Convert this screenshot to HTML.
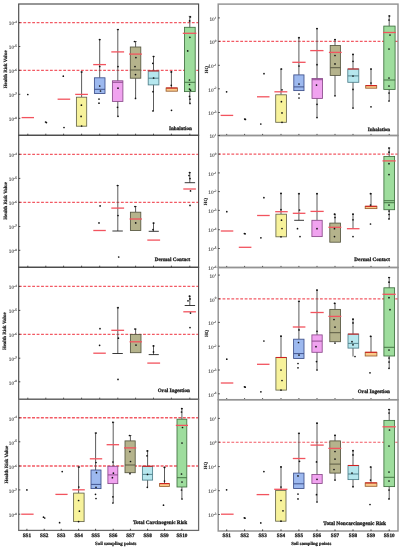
<!DOCTYPE html>
<html><head><meta charset="utf-8"><style>
html,body{margin:0;padding:0;background:#fff;}
svg{display:block;will-change:transform;}
text{font-family:"Liberation Serif",serif;fill:#222;text-rendering:geometricPrecision;}
</style></head><body>
<svg width="403" height="550" viewBox="0 0 403 550">
<rect x="0" y="0" width="403" height="550" fill="#fff"/>
<line x1="18.7" y1="22.6" x2="198.6" y2="22.6" stroke="#f25a64" stroke-width="1.3" stroke-dasharray="2.8 1.635" stroke-dashoffset="4.23"/>
<line x1="18.7" y1="70.3" x2="198.6" y2="70.3" stroke="#f25a64" stroke-width="1.3" stroke-dasharray="2.8 1.635" stroke-dashoffset="4.23"/>
<line x1="21.6" y1="117.6" x2="34" y2="117.6" stroke="#f2535e" stroke-width="1.3" />
<circle cx="27.8" cy="94.5" r="0.85" fill="#111"/>
<circle cx="45.6" cy="122" r="0.85" fill="#111"/>
<circle cx="46.4" cy="122.6" r="0.85" fill="#111"/>
<line x1="57.6" y1="99.2" x2="70.2" y2="99.2" stroke="#f2535e" stroke-width="1.3" />
<circle cx="63.3" cy="76.2" r="0.85" fill="#111"/>
<circle cx="64" cy="127.5" r="0.85" fill="#111"/>
<line x1="81.6" y1="71.9" x2="81.6" y2="97.2" stroke="#4a4a4a" stroke-width="0.9" />
<line x1="80.6" y1="71.9" x2="82.6" y2="71.9" stroke="#333" stroke-width="0.8" />
<rect x="76.4" y="97.2" width="10.3" height="29" fill="#f7f29b" stroke="#66664a" stroke-width="0.85"/>
<line x1="75.2" y1="94.4" x2="87.9" y2="94.4" stroke="#f2535e" stroke-width="1.3" />
<circle cx="81.6" cy="72" r="0.85" fill="#111"/>
<circle cx="81.4" cy="105.2" r="0.85" fill="#111"/>
<circle cx="81.1" cy="116.4" r="0.85" fill="#111"/>
<circle cx="81.6" cy="126" r="0.85" fill="#111"/>
<line x1="99.7" y1="39.6" x2="99.7" y2="77.8" stroke="#4a4a4a" stroke-width="0.9" />
<line x1="98.7" y1="39.6" x2="100.7" y2="39.6" stroke="#333" stroke-width="0.8" />
<rect x="94.4" y="77.8" width="10.6" height="15.7" fill="#9db9ef" stroke="#3d4f8a" stroke-width="0.85"/>
<line x1="94.4" y1="89.3" x2="105" y2="89.3" stroke="#3d4f8a" stroke-width="0.95" />
<line x1="93.2" y1="64.6" x2="106" y2="64.6" stroke="#f2535e" stroke-width="1.3" />
<circle cx="99.7" cy="39.6" r="0.85" fill="#111"/>
<circle cx="99.7" cy="66.5" r="0.85" fill="#111"/>
<circle cx="99.7" cy="86" r="0.85" fill="#111"/>
<circle cx="100.5" cy="91" r="0.85" fill="#111"/>
<circle cx="99" cy="99.1" r="0.85" fill="#111"/>
<circle cx="99" cy="103.2" r="0.85" fill="#111"/>
<line x1="117.8" y1="29.5" x2="117.8" y2="116.3" stroke="#4a4a4a" stroke-width="0.9" />
<line x1="116.8" y1="29.5" x2="118.8" y2="29.5" stroke="#333" stroke-width="0.8" />
<rect x="112.4" y="80.8" width="10.5" height="20.6" fill="#f0a3ef" stroke="#8a4a8a" stroke-width="0.85"/>
<line x1="112.4" y1="82.3" x2="122.9" y2="82.3" stroke="#8a4a8a" stroke-width="0.95" />
<line x1="111.3" y1="51.9" x2="124.1" y2="51.9" stroke="#f2535e" stroke-width="1.3" />
<circle cx="118" cy="29.5" r="0.85" fill="#111"/>
<circle cx="118" cy="66.6" r="0.85" fill="#111"/>
<circle cx="118" cy="88.2" r="0.85" fill="#111"/>
<circle cx="117.5" cy="107.3" r="0.85" fill="#111"/>
<circle cx="118" cy="116.3" r="0.85" fill="#111"/>
<line x1="135.6" y1="41.5" x2="135.6" y2="98.4" stroke="#4a4a4a" stroke-width="0.9" />
<line x1="134.6" y1="41.5" x2="136.6" y2="41.5" stroke="#333" stroke-width="0.8" />
<rect x="130.3" y="47" width="10.5" height="31.2" fill="#b5b38c" stroke="#55553f" stroke-width="0.85"/>
<line x1="130.3" y1="70" x2="140.8" y2="70" stroke="#55553f" stroke-width="0.95" />
<line x1="129" y1="54.1" x2="141.9" y2="54.1" stroke="#f2535e" stroke-width="1.3" />
<circle cx="134.5" cy="41.5" r="0.85" fill="#111"/>
<circle cx="135.9" cy="57.6" r="0.85" fill="#111"/>
<circle cx="135" cy="66.6" r="0.85" fill="#111"/>
<circle cx="135.5" cy="74.6" r="0.85" fill="#111"/>
<circle cx="135.5" cy="98.4" r="0.85" fill="#111"/>
<line x1="153.5" y1="56.4" x2="153.5" y2="110.9" stroke="#4a4a4a" stroke-width="0.9" />
<line x1="152.5" y1="56.4" x2="154.5" y2="56.4" stroke="#333" stroke-width="0.8" />
<rect x="148.2" y="70.9" width="10.7" height="14" fill="#b6e7ee" stroke="#4f7f8a" stroke-width="0.85"/>
<line x1="148.2" y1="78.2" x2="158.9" y2="78.2" stroke="#4f7f8a" stroke-width="0.95" />
<line x1="148.2" y1="70.9" x2="158.9" y2="70.9" stroke="#d02020" stroke-width="1.1" />
<circle cx="153.6" cy="56.5" r="0.85" fill="#111"/>
<circle cx="152.8" cy="63.3" r="0.85" fill="#111"/>
<circle cx="153.6" cy="78" r="0.85" fill="#111"/>
<circle cx="153" cy="91.7" r="0.85" fill="#111"/>
<circle cx="153" cy="110.9" r="0.85" fill="#111"/>
<line x1="171.4" y1="71.9" x2="171.4" y2="88" stroke="#4a4a4a" stroke-width="0.9" />
<line x1="170.4" y1="71.9" x2="172.4" y2="71.9" stroke="#333" stroke-width="0.8" />
<rect x="166.1" y="88" width="11.3" height="3.2" fill="#fbc98a" stroke="#9a6030" stroke-width="0.85"/>
<line x1="166.1" y1="88" x2="177.4" y2="88" stroke="#d02020" stroke-width="1.1" />
<circle cx="171.3" cy="71.9" r="0.85" fill="#111"/>
<circle cx="171.3" cy="85.3" r="0.85" fill="#111"/>
<circle cx="171.5" cy="110.3" r="0.85" fill="#111"/>
<line x1="189.8" y1="16.4" x2="189.8" y2="103.4" stroke="#4a4a4a" stroke-width="0.9" />
<line x1="188.8" y1="16.4" x2="190.8" y2="16.4" stroke="#333" stroke-width="0.8" />
<rect x="184.5" y="27.3" width="10.7" height="64.3" fill="#9edd9d" stroke="#3f6f3f" stroke-width="0.85"/>
<line x1="184.5" y1="82.3" x2="195.2" y2="82.3" stroke="#3f6f3f" stroke-width="0.95" />
<line x1="182.8" y1="33.3" x2="196.4" y2="33.3" stroke="#f2535e" stroke-width="1.3" />
<circle cx="190.4" cy="16.9" r="0.85" fill="#111"/>
<circle cx="189.6" cy="20.9" r="0.85" fill="#111"/>
<circle cx="189.9" cy="37.3" r="0.85" fill="#111"/>
<circle cx="187.7" cy="50.9" r="0.85" fill="#111"/>
<circle cx="189.5" cy="80" r="0.85" fill="#111"/>
<circle cx="189.5" cy="84.5" r="0.85" fill="#111"/>
<circle cx="189.5" cy="89.1" r="0.85" fill="#111"/>
<circle cx="190.5" cy="90.2" r="0.85" fill="#111"/>
<circle cx="189.5" cy="96.4" r="0.85" fill="#111"/>
<circle cx="190" cy="99.1" r="0.85" fill="#111"/>
<circle cx="190" cy="103.4" r="0.85" fill="#111"/>
<rect x="18.7" y="4" width="179.9" height="131.3" fill="none" stroke="#4a4a4a" stroke-width="1.15"/>
<line x1="18.7" y1="22.6" x2="20.3" y2="22.6" stroke="#333" stroke-width="0.9" />
<g transform="translate(16.9,25.3) scale(0.1)"><text x="0" y="0" text-rendering="geometricPrecision" font-size="53" text-anchor="end" font-weight="normal" style="fill:#444" stroke="#222" stroke-width="0.8">10<tspan font-size="33.0" dy="-21.0">-4</tspan></text></g>
<line x1="18.7" y1="46.5" x2="20.3" y2="46.5" stroke="#333" stroke-width="0.9" />
<g transform="translate(16.9,49.2) scale(0.1)"><text x="0" y="0" text-rendering="geometricPrecision" font-size="53" text-anchor="end" font-weight="normal" style="fill:#444" stroke="#222" stroke-width="0.8">10<tspan font-size="33.0" dy="-21.0">-5</tspan></text></g>
<line x1="18.7" y1="70.3" x2="20.3" y2="70.3" stroke="#333" stroke-width="0.9" />
<g transform="translate(16.9,73) scale(0.1)"><text x="0" y="0" text-rendering="geometricPrecision" font-size="53" text-anchor="end" font-weight="normal" style="fill:#444" stroke="#222" stroke-width="0.8">10<tspan font-size="33.0" dy="-21.0">-6</tspan></text></g>
<line x1="18.7" y1="94.3" x2="20.3" y2="94.3" stroke="#333" stroke-width="0.9" />
<g transform="translate(16.9,97) scale(0.1)"><text x="0" y="0" text-rendering="geometricPrecision" font-size="53" text-anchor="end" font-weight="normal" style="fill:#444" stroke="#222" stroke-width="0.8">10<tspan font-size="33.0" dy="-21.0">-7</tspan></text></g>
<line x1="18.7" y1="118.3" x2="20.3" y2="118.3" stroke="#333" stroke-width="0.9" />
<g transform="translate(16.9,121) scale(0.1)"><text x="0" y="0" text-rendering="geometricPrecision" font-size="53" text-anchor="end" font-weight="normal" style="fill:#444" stroke="#222" stroke-width="0.8">10<tspan font-size="33.0" dy="-21.0">-8</tspan></text></g>
<line x1="27.8" y1="135.3" x2="27.8" y2="133.7" stroke="#333" stroke-width="0.9" />
<line x1="45.8" y1="135.3" x2="45.8" y2="133.7" stroke="#333" stroke-width="0.9" />
<line x1="63.6" y1="135.3" x2="63.6" y2="133.7" stroke="#333" stroke-width="0.9" />
<line x1="81.6" y1="135.3" x2="81.6" y2="133.7" stroke="#333" stroke-width="0.9" />
<line x1="99.7" y1="135.3" x2="99.7" y2="133.7" stroke="#333" stroke-width="0.9" />
<line x1="117.8" y1="135.3" x2="117.8" y2="133.7" stroke="#333" stroke-width="0.9" />
<line x1="135.6" y1="135.3" x2="135.6" y2="133.7" stroke="#333" stroke-width="0.9" />
<line x1="153.5" y1="135.3" x2="153.5" y2="133.7" stroke="#333" stroke-width="0.9" />
<line x1="171.4" y1="135.3" x2="171.4" y2="133.7" stroke="#333" stroke-width="0.9" />
<line x1="189.8" y1="135.3" x2="189.8" y2="133.7" stroke="#333" stroke-width="0.9" />
<g transform="translate(192,129.9) scale(0.1)"><text x="0" y="0" text-rendering="geometricPrecision" font-size="52" text-anchor="end" font-weight="bold"  stroke="#222" stroke-width="3">Inhalation</text></g>
<g transform="translate(7.1,69.3) rotate(-90) scale(0.1)"><text x="0" y="0" text-rendering="geometricPrecision" font-size="49" text-anchor="middle" font-weight="bold"  stroke="#222" stroke-width="1.9">Health Risk Value</text></g>
<line x1="18.7" y1="154.3" x2="198.6" y2="154.3" stroke="#f25a64" stroke-width="1.3" stroke-dasharray="2.8 1.635" stroke-dashoffset="4.23"/>
<line x1="18.7" y1="202.3" x2="198.6" y2="202.3" stroke="#f25a64" stroke-width="1.3" stroke-dasharray="2.8 1.635" stroke-dashoffset="4.23"/>
<line x1="93.3" y1="230.5" x2="105.8" y2="230.5" stroke="#f2535e" stroke-width="1.3" />
<circle cx="100.1" cy="205.9" r="0.85" fill="#111"/>
<circle cx="99" cy="222.9" r="0.85" fill="#111"/>
<line x1="117.8" y1="185.5" x2="117.8" y2="231" stroke="#4a4a4a" stroke-width="0.9" />
<line x1="116.8" y1="185.5" x2="118.8" y2="185.5" stroke="#333" stroke-width="0.8" />
<line x1="112.4" y1="231" x2="122.8" y2="231" stroke="#222" stroke-width="0.9" />
<line x1="111.3" y1="208.1" x2="124.1" y2="208.1" stroke="#f2535e" stroke-width="1.3" />
<circle cx="117.5" cy="185.5" r="0.85" fill="#111"/>
<circle cx="118" cy="215.5" r="0.85" fill="#111"/>
<circle cx="118.7" cy="257" r="0.85" fill="#111"/>
<line x1="135.6" y1="206.5" x2="135.6" y2="212.2" stroke="#4a4a4a" stroke-width="0.9" />
<line x1="134.6" y1="206.5" x2="136.6" y2="206.5" stroke="#333" stroke-width="0.8" />
<rect x="130.4" y="212.2" width="10.4" height="18.3" fill="#b5b38c" stroke="#55553f" stroke-width="0.85"/>
<line x1="129.6" y1="219" x2="141.9" y2="219" stroke="#f2535e" stroke-width="1.3" />
<circle cx="135" cy="206.5" r="0.85" fill="#111"/>
<circle cx="135.7" cy="222.9" r="0.85" fill="#111"/>
<line x1="153.5" y1="223.1" x2="153.5" y2="231.3" stroke="#4a4a4a" stroke-width="0.9" />
<line x1="152.5" y1="223.1" x2="154.5" y2="223.1" stroke="#333" stroke-width="0.8" />
<line x1="148.7" y1="231.3" x2="158.8" y2="231.3" stroke="#222" stroke-width="0.9" />
<line x1="147.3" y1="240.1" x2="160.1" y2="240.1" stroke="#f2535e" stroke-width="1.3" />
<circle cx="153.6" cy="223.1" r="0.85" fill="#111"/>
<circle cx="153" cy="229.7" r="0.85" fill="#111"/>
<line x1="189.8" y1="172.6" x2="189.8" y2="182.7" stroke="#4a4a4a" stroke-width="0.9" />
<line x1="188.8" y1="172.6" x2="190.8" y2="172.6" stroke="#333" stroke-width="0.8" />
<line x1="184.7" y1="182.7" x2="195.1" y2="182.7" stroke="#222" stroke-width="0.9" />
<line x1="183.3" y1="189" x2="195.9" y2="189" stroke="#f2535e" stroke-width="1.3" />
<circle cx="189.6" cy="172.6" r="0.85" fill="#111"/>
<circle cx="189" cy="175.5" r="0.85" fill="#111"/>
<circle cx="190" cy="178.6" r="0.85" fill="#111"/>
<circle cx="190.5" cy="190.9" r="0.85" fill="#111"/>
<circle cx="190" cy="205.4" r="0.85" fill="#111"/>
<rect x="18.7" y="135.3" width="179.9" height="132" fill="none" stroke="#4a4a4a" stroke-width="1.15"/>
<line x1="18.7" y1="154.3" x2="20.3" y2="154.3" stroke="#333" stroke-width="0.9" />
<g transform="translate(16.9,157) scale(0.1)"><text x="0" y="0" text-rendering="geometricPrecision" font-size="53" text-anchor="end" font-weight="normal" style="fill:#444" stroke="#222" stroke-width="0.8">10<tspan font-size="33.0" dy="-21.0">-4</tspan></text></g>
<line x1="18.7" y1="178.4" x2="20.3" y2="178.4" stroke="#333" stroke-width="0.9" />
<g transform="translate(16.9,181.1) scale(0.1)"><text x="0" y="0" text-rendering="geometricPrecision" font-size="53" text-anchor="end" font-weight="normal" style="fill:#444" stroke="#222" stroke-width="0.8">10<tspan font-size="33.0" dy="-21.0">-5</tspan></text></g>
<line x1="18.7" y1="202.3" x2="20.3" y2="202.3" stroke="#333" stroke-width="0.9" />
<g transform="translate(16.9,205) scale(0.1)"><text x="0" y="0" text-rendering="geometricPrecision" font-size="53" text-anchor="end" font-weight="normal" style="fill:#444" stroke="#222" stroke-width="0.8">10<tspan font-size="33.0" dy="-21.0">-6</tspan></text></g>
<line x1="18.7" y1="226.5" x2="20.3" y2="226.5" stroke="#333" stroke-width="0.9" />
<g transform="translate(16.9,229.2) scale(0.1)"><text x="0" y="0" text-rendering="geometricPrecision" font-size="53" text-anchor="end" font-weight="normal" style="fill:#444" stroke="#222" stroke-width="0.8">10<tspan font-size="33.0" dy="-21.0">-7</tspan></text></g>
<line x1="18.7" y1="250.3" x2="20.3" y2="250.3" stroke="#333" stroke-width="0.9" />
<g transform="translate(16.9,253) scale(0.1)"><text x="0" y="0" text-rendering="geometricPrecision" font-size="53" text-anchor="end" font-weight="normal" style="fill:#444" stroke="#222" stroke-width="0.8">10<tspan font-size="33.0" dy="-21.0">-8</tspan></text></g>
<line x1="27.8" y1="267.3" x2="27.8" y2="265.7" stroke="#333" stroke-width="0.9" />
<line x1="45.8" y1="267.3" x2="45.8" y2="265.7" stroke="#333" stroke-width="0.9" />
<line x1="63.6" y1="267.3" x2="63.6" y2="265.7" stroke="#333" stroke-width="0.9" />
<line x1="81.6" y1="267.3" x2="81.6" y2="265.7" stroke="#333" stroke-width="0.9" />
<line x1="99.7" y1="267.3" x2="99.7" y2="265.7" stroke="#333" stroke-width="0.9" />
<line x1="117.8" y1="267.3" x2="117.8" y2="265.7" stroke="#333" stroke-width="0.9" />
<line x1="135.6" y1="267.3" x2="135.6" y2="265.7" stroke="#333" stroke-width="0.9" />
<line x1="153.5" y1="267.3" x2="153.5" y2="265.7" stroke="#333" stroke-width="0.9" />
<line x1="171.4" y1="267.3" x2="171.4" y2="265.7" stroke="#333" stroke-width="0.9" />
<line x1="189.8" y1="267.3" x2="189.8" y2="265.7" stroke="#333" stroke-width="0.9" />
<g transform="translate(190.3,260.5) scale(0.1)"><text x="0" y="0" text-rendering="geometricPrecision" font-size="52" text-anchor="end" font-weight="bold"  stroke="#222" stroke-width="3">Dermal Contact</text></g>
<g transform="translate(7.4,200.9) rotate(-90) scale(0.1)"><text x="0" y="0" text-rendering="geometricPrecision" font-size="49" text-anchor="middle" font-weight="bold"  stroke="#222" stroke-width="1.9">Health Risk Value</text></g>
<line x1="18.7" y1="286.4" x2="198.6" y2="286.4" stroke="#f25a64" stroke-width="1.3" stroke-dasharray="2.8 1.635" stroke-dashoffset="4.23"/>
<line x1="18.7" y1="334.3" x2="198.6" y2="334.3" stroke="#f25a64" stroke-width="1.3" stroke-dasharray="2.8 1.635" stroke-dashoffset="4.23"/>
<line x1="93.3" y1="353.2" x2="105.8" y2="353.2" stroke="#f2535e" stroke-width="1.3" />
<circle cx="100" cy="328.7" r="0.85" fill="#111"/>
<circle cx="99.6" cy="345.3" r="0.85" fill="#111"/>
<line x1="117.8" y1="307.7" x2="117.8" y2="353.5" stroke="#4a4a4a" stroke-width="0.9" />
<line x1="116.8" y1="307.7" x2="118.8" y2="307.7" stroke="#333" stroke-width="0.8" />
<line x1="112.4" y1="353.5" x2="122.8" y2="353.5" stroke="#222" stroke-width="0.9" />
<line x1="111.3" y1="330.3" x2="124.1" y2="330.3" stroke="#f2535e" stroke-width="1.3" />
<circle cx="118" cy="307.7" r="0.85" fill="#111"/>
<circle cx="118.4" cy="338.2" r="0.85" fill="#111"/>
<circle cx="118" cy="379.4" r="0.85" fill="#111"/>
<line x1="135.6" y1="329" x2="135.6" y2="334.4" stroke="#4a4a4a" stroke-width="0.9" />
<line x1="134.6" y1="329" x2="136.6" y2="329" stroke="#333" stroke-width="0.8" />
<rect x="130.4" y="334.4" width="10.6" height="18.3" fill="#b5b38c" stroke="#55553f" stroke-width="0.85"/>
<line x1="129.6" y1="341.8" x2="141.9" y2="341.8" stroke="#f2535e" stroke-width="1.3" />
<circle cx="135" cy="329" r="0.85" fill="#111"/>
<circle cx="136" cy="345.1" r="0.85" fill="#111"/>
<line x1="153.5" y1="345.9" x2="153.5" y2="354.6" stroke="#4a4a4a" stroke-width="0.9" />
<line x1="152.5" y1="345.9" x2="154.5" y2="345.9" stroke="#333" stroke-width="0.8" />
<line x1="148.7" y1="354.6" x2="158.8" y2="354.6" stroke="#222" stroke-width="0.9" />
<line x1="147.3" y1="363.1" x2="160.1" y2="363.1" stroke="#f2535e" stroke-width="1.3" />
<circle cx="153.5" cy="345.9" r="0.85" fill="#111"/>
<circle cx="153.5" cy="351.9" r="0.85" fill="#111"/>
<line x1="189.8" y1="296.2" x2="189.8" y2="305.5" stroke="#4a4a4a" stroke-width="0.9" />
<line x1="188.8" y1="296.2" x2="190.8" y2="296.2" stroke="#333" stroke-width="0.8" />
<line x1="184.7" y1="305.5" x2="195.1" y2="305.5" stroke="#222" stroke-width="0.9" />
<line x1="183.3" y1="311.8" x2="195.9" y2="311.8" stroke="#f2535e" stroke-width="1.3" />
<circle cx="189.5" cy="296.2" r="0.85" fill="#111"/>
<circle cx="188" cy="300.8" r="0.85" fill="#111"/>
<circle cx="190" cy="298.9" r="0.85" fill="#111"/>
<circle cx="190.5" cy="313.1" r="0.85" fill="#111"/>
<circle cx="190" cy="327.6" r="0.85" fill="#111"/>
<rect x="18.7" y="267.3" width="179.9" height="132" fill="none" stroke="#4a4a4a" stroke-width="1.15"/>
<line x1="18.7" y1="286.4" x2="20.3" y2="286.4" stroke="#333" stroke-width="0.9" />
<g transform="translate(16.9,289.1) scale(0.1)"><text x="0" y="0" text-rendering="geometricPrecision" font-size="53" text-anchor="end" font-weight="normal" style="fill:#444" stroke="#222" stroke-width="0.8">10<tspan font-size="33.0" dy="-21.0">-4</tspan></text></g>
<line x1="18.7" y1="310.4" x2="20.3" y2="310.4" stroke="#333" stroke-width="0.9" />
<g transform="translate(16.9,313.1) scale(0.1)"><text x="0" y="0" text-rendering="geometricPrecision" font-size="53" text-anchor="end" font-weight="normal" style="fill:#444" stroke="#222" stroke-width="0.8">10<tspan font-size="33.0" dy="-21.0">-5</tspan></text></g>
<line x1="18.7" y1="334.3" x2="20.3" y2="334.3" stroke="#333" stroke-width="0.9" />
<g transform="translate(16.9,337) scale(0.1)"><text x="0" y="0" text-rendering="geometricPrecision" font-size="53" text-anchor="end" font-weight="normal" style="fill:#444" stroke="#222" stroke-width="0.8">10<tspan font-size="33.0" dy="-21.0">-6</tspan></text></g>
<line x1="18.7" y1="358.2" x2="20.3" y2="358.2" stroke="#333" stroke-width="0.9" />
<g transform="translate(16.9,360.9) scale(0.1)"><text x="0" y="0" text-rendering="geometricPrecision" font-size="53" text-anchor="end" font-weight="normal" style="fill:#444" stroke="#222" stroke-width="0.8">10<tspan font-size="33.0" dy="-21.0">-7</tspan></text></g>
<line x1="18.7" y1="381.8" x2="20.3" y2="381.8" stroke="#333" stroke-width="0.9" />
<g transform="translate(16.9,384.5) scale(0.1)"><text x="0" y="0" text-rendering="geometricPrecision" font-size="53" text-anchor="end" font-weight="normal" style="fill:#444" stroke="#222" stroke-width="0.8">10<tspan font-size="33.0" dy="-21.0">-8</tspan></text></g>
<line x1="27.8" y1="399.3" x2="27.8" y2="397.7" stroke="#333" stroke-width="0.9" />
<line x1="45.8" y1="399.3" x2="45.8" y2="397.7" stroke="#333" stroke-width="0.9" />
<line x1="63.6" y1="399.3" x2="63.6" y2="397.7" stroke="#333" stroke-width="0.9" />
<line x1="81.6" y1="399.3" x2="81.6" y2="397.7" stroke="#333" stroke-width="0.9" />
<line x1="99.7" y1="399.3" x2="99.7" y2="397.7" stroke="#333" stroke-width="0.9" />
<line x1="117.8" y1="399.3" x2="117.8" y2="397.7" stroke="#333" stroke-width="0.9" />
<line x1="135.6" y1="399.3" x2="135.6" y2="397.7" stroke="#333" stroke-width="0.9" />
<line x1="153.5" y1="399.3" x2="153.5" y2="397.7" stroke="#333" stroke-width="0.9" />
<line x1="171.4" y1="399.3" x2="171.4" y2="397.7" stroke="#333" stroke-width="0.9" />
<line x1="189.8" y1="399.3" x2="189.8" y2="397.7" stroke="#333" stroke-width="0.9" />
<g transform="translate(190,392.2) scale(0.1)"><text x="0" y="0" text-rendering="geometricPrecision" font-size="52" text-anchor="end" font-weight="bold"  stroke="#222" stroke-width="3">Oral Ingestion</text></g>
<g transform="translate(6.4,331.2) rotate(-90) scale(0.1)"><text x="0" y="0" text-rendering="geometricPrecision" font-size="49" text-anchor="middle" font-weight="bold"  stroke="#222" stroke-width="1.9">Health Risk Value</text></g>
<line x1="18.7" y1="417.8" x2="198.6" y2="417.8" stroke="#f25a64" stroke-width="1.6" stroke-dasharray="3.0 1.435" stroke-dashoffset="0"/>
<line x1="18.7" y1="466" x2="198.6" y2="466" stroke="#f25a64" stroke-width="1.6" stroke-dasharray="3.0 1.435" stroke-dashoffset="0"/>
<line x1="21.2" y1="514.2" x2="33.6" y2="514.2" stroke="#f2535e" stroke-width="1.3" />
<circle cx="26.9" cy="489.9" r="0.85" fill="#111"/>
<circle cx="43.5" cy="517.2" r="0.85" fill="#111"/>
<circle cx="44.7" cy="518" r="0.85" fill="#111"/>
<line x1="55.4" y1="494.4" x2="67.6" y2="494.4" stroke="#f2535e" stroke-width="1.3" />
<circle cx="62.2" cy="471.6" r="0.85" fill="#111"/>
<circle cx="59.6" cy="522.7" r="0.85" fill="#111"/>
<line x1="78.6" y1="467" x2="78.6" y2="493.1" stroke="#4a4a4a" stroke-width="0.9" />
<line x1="77.6" y1="467" x2="79.6" y2="467" stroke="#333" stroke-width="0.8" />
<rect x="73.6" y="493.1" width="10.5" height="28.5" fill="#f7f29b" stroke="#66664a" stroke-width="0.85"/>
<line x1="72.4" y1="489.8" x2="84.8" y2="489.8" stroke="#f2535e" stroke-width="1.3" />
<circle cx="79" cy="467" r="0.85" fill="#111"/>
<circle cx="78.8" cy="487" r="0.85" fill="#111"/>
<circle cx="78.6" cy="500.5" r="0.85" fill="#111"/>
<circle cx="79.4" cy="511.2" r="0.85" fill="#111"/>
<circle cx="78.6" cy="521.6" r="0.85" fill="#111"/>
<line x1="95.6" y1="433" x2="95.6" y2="470" stroke="#4a4a4a" stroke-width="0.9" />
<line x1="94.6" y1="433" x2="96.6" y2="433" stroke="#333" stroke-width="0.8" />
<rect x="91" y="470" width="10" height="18.6" fill="#9db9ef" stroke="#3d4f8a" stroke-width="0.85"/>
<line x1="91" y1="484.4" x2="101" y2="484.4" stroke="#3d4f8a" stroke-width="0.95" />
<line x1="89.8" y1="458.8" x2="102.2" y2="458.8" stroke="#f2535e" stroke-width="1.3" />
<circle cx="96" cy="433" r="0.85" fill="#111"/>
<circle cx="96" cy="462.5" r="0.85" fill="#111"/>
<circle cx="96.5" cy="472.7" r="0.85" fill="#111"/>
<circle cx="96" cy="487.3" r="0.85" fill="#111"/>
<circle cx="95.5" cy="494.3" r="0.85" fill="#111"/>
<circle cx="96" cy="498.5" r="0.85" fill="#111"/>
<line x1="113.2" y1="422.3" x2="113.2" y2="503" stroke="#4a4a4a" stroke-width="0.9" />
<line x1="112.2" y1="422.3" x2="114.2" y2="422.3" stroke="#333" stroke-width="0.8" />
<rect x="107.9" y="466.3" width="9.9" height="17.3" fill="#f0a3ef" stroke="#8a4a8a" stroke-width="0.85"/>
<line x1="107.9" y1="474.9" x2="117.8" y2="474.9" stroke="#8a4a8a" stroke-width="0.95" />
<line x1="106.6" y1="444.7" x2="119.1" y2="444.7" stroke="#f2535e" stroke-width="1.3" />
<circle cx="112.9" cy="422.3" r="0.85" fill="#111"/>
<circle cx="112.9" cy="462" r="0.85" fill="#111"/>
<circle cx="113.4" cy="473.2" r="0.85" fill="#111"/>
<circle cx="112.4" cy="477.7" r="0.85" fill="#111"/>
<circle cx="112.9" cy="496.8" r="0.85" fill="#111"/>
<circle cx="112.9" cy="503" r="0.85" fill="#111"/>
<line x1="130.4" y1="435.5" x2="130.4" y2="472.7" stroke="#4a4a4a" stroke-width="0.9" />
<line x1="129.4" y1="435.5" x2="131.4" y2="435.5" stroke="#333" stroke-width="0.8" />
<rect x="125" y="440.9" width="10.2" height="31.8" fill="#b5b38c" stroke="#55553f" stroke-width="0.85"/>
<line x1="125" y1="465" x2="135.2" y2="465" stroke="#55553f" stroke-width="0.95" />
<line x1="124" y1="447.9" x2="136.2" y2="447.9" stroke="#f2535e" stroke-width="1.3" />
<circle cx="129.5" cy="435.5" r="0.85" fill="#111"/>
<circle cx="129.9" cy="451.6" r="0.85" fill="#111"/>
<circle cx="130.5" cy="461.5" r="0.85" fill="#111"/>
<circle cx="130" cy="473.7" r="0.85" fill="#111"/>
<line x1="147.6" y1="450.9" x2="147.6" y2="487.3" stroke="#4a4a4a" stroke-width="0.9" />
<line x1="146.6" y1="450.9" x2="148.6" y2="450.9" stroke="#333" stroke-width="0.8" />
<rect x="142.4" y="466.3" width="10.2" height="13.8" fill="#b6e7ee" stroke="#4f7f8a" stroke-width="0.85"/>
<line x1="142.4" y1="474.4" x2="152.6" y2="474.4" stroke="#4f7f8a" stroke-width="0.95" />
<line x1="142.4" y1="466.3" x2="152.6" y2="466.3" stroke="#d02020" stroke-width="1.1" />
<circle cx="147.3" cy="450.9" r="0.85" fill="#111"/>
<circle cx="147" cy="455.8" r="0.85" fill="#111"/>
<circle cx="147.5" cy="474.4" r="0.85" fill="#111"/>
<circle cx="147.3" cy="487.3" r="0.85" fill="#111"/>
<line x1="164.5" y1="467.4" x2="164.5" y2="483.6" stroke="#4a4a4a" stroke-width="0.9" />
<line x1="163.5" y1="467.4" x2="165.5" y2="467.4" stroke="#333" stroke-width="0.8" />
<rect x="159.6" y="483.6" width="9.8" height="2.8" fill="#fbc98a" stroke="#9a6030" stroke-width="0.85"/>
<line x1="159.6" y1="483.6" x2="169.4" y2="483.6" stroke="#d02020" stroke-width="1.1" />
<circle cx="164.5" cy="467.4" r="0.85" fill="#111"/>
<circle cx="164.5" cy="481" r="0.85" fill="#111"/>
<circle cx="163.5" cy="505.2" r="0.85" fill="#111"/>
<line x1="181.9" y1="408.6" x2="181.9" y2="499" stroke="#4a4a4a" stroke-width="0.9" />
<line x1="180.9" y1="408.6" x2="182.9" y2="408.6" stroke="#333" stroke-width="0.8" />
<rect x="177" y="419.2" width="9.8" height="67.8" fill="#9edd9d" stroke="#3f6f3f" stroke-width="0.85"/>
<line x1="177" y1="477.7" x2="186.8" y2="477.7" stroke="#3f6f3f" stroke-width="0.95" />
<line x1="175.8" y1="425.4" x2="188" y2="425.4" stroke="#f2535e" stroke-width="1.3" />
<circle cx="181.8" cy="408.6" r="0.85" fill="#111"/>
<circle cx="181.5" cy="412" r="0.85" fill="#111"/>
<circle cx="182.5" cy="427.5" r="0.85" fill="#111"/>
<circle cx="182" cy="443" r="0.85" fill="#111"/>
<circle cx="181.5" cy="474" r="0.85" fill="#111"/>
<circle cx="182" cy="482" r="0.85" fill="#111"/>
<circle cx="181.5" cy="490" r="0.85" fill="#111"/>
<circle cx="182" cy="499" r="0.85" fill="#111"/>
<rect x="18.7" y="399.3" width="179.9" height="131.1" fill="none" stroke="#6a6a6a" stroke-width="1.25"/>
<line x1="18.7" y1="417.8" x2="20.3" y2="417.8" stroke="#333" stroke-width="0.9" />
<g transform="translate(16.9,420.5) scale(0.1)"><text x="0" y="0" text-rendering="geometricPrecision" font-size="53" text-anchor="end" font-weight="normal" style="fill:#444" stroke="#222" stroke-width="0.8">10<tspan font-size="33.0" dy="-21.0">-4</tspan></text></g>
<line x1="18.7" y1="441.8" x2="20.3" y2="441.8" stroke="#333" stroke-width="0.9" />
<g transform="translate(16.9,444.5) scale(0.1)"><text x="0" y="0" text-rendering="geometricPrecision" font-size="53" text-anchor="end" font-weight="normal" style="fill:#444" stroke="#222" stroke-width="0.8">10<tspan font-size="33.0" dy="-21.0">-5</tspan></text></g>
<line x1="18.7" y1="466" x2="20.3" y2="466" stroke="#333" stroke-width="0.9" />
<g transform="translate(16.9,468.7) scale(0.1)"><text x="0" y="0" text-rendering="geometricPrecision" font-size="53" text-anchor="end" font-weight="normal" style="fill:#444" stroke="#222" stroke-width="0.8">10<tspan font-size="33.0" dy="-21.0">-6</tspan></text></g>
<line x1="18.7" y1="489.9" x2="20.3" y2="489.9" stroke="#333" stroke-width="0.9" />
<g transform="translate(16.9,492.6) scale(0.1)"><text x="0" y="0" text-rendering="geometricPrecision" font-size="53" text-anchor="end" font-weight="normal" style="fill:#444" stroke="#222" stroke-width="0.8">10<tspan font-size="33.0" dy="-21.0">-7</tspan></text></g>
<line x1="18.7" y1="514.2" x2="20.3" y2="514.2" stroke="#333" stroke-width="0.9" />
<g transform="translate(16.9,516.9) scale(0.1)"><text x="0" y="0" text-rendering="geometricPrecision" font-size="53" text-anchor="end" font-weight="normal" style="fill:#444" stroke="#222" stroke-width="0.8">10<tspan font-size="33.0" dy="-21.0">-8</tspan></text></g>
<line x1="26.9" y1="530.4" x2="26.9" y2="528.8" stroke="#333" stroke-width="0.9" />
<line x1="44.2" y1="530.4" x2="44.2" y2="528.8" stroke="#333" stroke-width="0.9" />
<line x1="61.2" y1="530.4" x2="61.2" y2="528.8" stroke="#333" stroke-width="0.9" />
<line x1="78.6" y1="530.4" x2="78.6" y2="528.8" stroke="#333" stroke-width="0.9" />
<line x1="95.6" y1="530.4" x2="95.6" y2="528.8" stroke="#333" stroke-width="0.9" />
<line x1="113.2" y1="530.4" x2="113.2" y2="528.8" stroke="#333" stroke-width="0.9" />
<line x1="130.4" y1="530.4" x2="130.4" y2="528.8" stroke="#333" stroke-width="0.9" />
<line x1="147.6" y1="530.4" x2="147.6" y2="528.8" stroke="#333" stroke-width="0.9" />
<line x1="164.5" y1="530.4" x2="164.5" y2="528.8" stroke="#333" stroke-width="0.9" />
<line x1="181.9" y1="530.4" x2="181.9" y2="528.8" stroke="#333" stroke-width="0.9" />
<g transform="translate(26.9,537.1) scale(0.1)"><text x="0" y="0" text-rendering="geometricPrecision" font-size="52" text-anchor="middle" font-weight="bold"  stroke="#222" stroke-width="2.8">SS1</text></g>
<g transform="translate(44.2,537.1) scale(0.1)"><text x="0" y="0" text-rendering="geometricPrecision" font-size="52" text-anchor="middle" font-weight="bold"  stroke="#222" stroke-width="2.8">SS2</text></g>
<g transform="translate(61.2,537.1) scale(0.1)"><text x="0" y="0" text-rendering="geometricPrecision" font-size="52" text-anchor="middle" font-weight="bold"  stroke="#222" stroke-width="2.8">SS3</text></g>
<g transform="translate(78.6,537.1) scale(0.1)"><text x="0" y="0" text-rendering="geometricPrecision" font-size="52" text-anchor="middle" font-weight="bold"  stroke="#222" stroke-width="2.8">SS4</text></g>
<g transform="translate(95.6,537.1) scale(0.1)"><text x="0" y="0" text-rendering="geometricPrecision" font-size="52" text-anchor="middle" font-weight="bold"  stroke="#222" stroke-width="2.8">SS5</text></g>
<g transform="translate(113.2,537.1) scale(0.1)"><text x="0" y="0" text-rendering="geometricPrecision" font-size="52" text-anchor="middle" font-weight="bold"  stroke="#222" stroke-width="2.8">SS6</text></g>
<g transform="translate(130.4,537.1) scale(0.1)"><text x="0" y="0" text-rendering="geometricPrecision" font-size="52" text-anchor="middle" font-weight="bold"  stroke="#222" stroke-width="2.8">SS7</text></g>
<g transform="translate(147.6,537.1) scale(0.1)"><text x="0" y="0" text-rendering="geometricPrecision" font-size="52" text-anchor="middle" font-weight="bold"  stroke="#222" stroke-width="2.8">SS8</text></g>
<g transform="translate(164.5,537.1) scale(0.1)"><text x="0" y="0" text-rendering="geometricPrecision" font-size="52" text-anchor="middle" font-weight="bold"  stroke="#222" stroke-width="2.8">SS9</text></g>
<g transform="translate(181.9,537.1) scale(0.1)"><text x="0" y="0" text-rendering="geometricPrecision" font-size="52" text-anchor="middle" font-weight="bold"  stroke="#222" stroke-width="2.8">SS10</text></g>
<g transform="translate(187.1,524.3) scale(0.1)"><text x="0" y="0" text-rendering="geometricPrecision" font-size="52.7" text-anchor="end" font-weight="bold"  stroke="#222" stroke-width="3">Total Carcinogenic Risk</text></g>
<g transform="translate(7.7,464.7) rotate(-90) scale(0.1)"><text x="0" y="0" text-rendering="geometricPrecision" font-size="49" text-anchor="middle" font-weight="bold"  stroke="#222" stroke-width="1.9">Health Risk Value</text></g>
<line x1="218.2" y1="41.4" x2="398" y2="41.4" stroke="#f25a64" stroke-width="1.15" stroke-dasharray="2.8 1.63" stroke-dashoffset="0.1"/>
<line x1="220.6" y1="115.4" x2="233.2" y2="115.4" stroke="#f2535e" stroke-width="1.3" />
<circle cx="226.6" cy="91.8" r="0.85" fill="#111"/>
<circle cx="244.7" cy="119.1" r="0.85" fill="#111"/>
<circle cx="245.4" cy="119.4" r="0.85" fill="#111"/>
<line x1="257" y1="96.8" x2="269.5" y2="96.8" stroke="#f2535e" stroke-width="1.3" />
<circle cx="264" cy="73.7" r="0.85" fill="#111"/>
<circle cx="260.8" cy="124" r="0.85" fill="#111"/>
<line x1="281" y1="69" x2="281" y2="94.8" stroke="#4a4a4a" stroke-width="0.9" />
<line x1="280" y1="69" x2="282" y2="69" stroke="#333" stroke-width="0.8" />
<rect x="275.7" y="94.8" width="10.7" height="27.5" fill="#f7f29b" stroke="#66664a" stroke-width="0.85"/>
<line x1="274.4" y1="91.8" x2="287.3" y2="91.8" stroke="#f2535e" stroke-width="1.3" />
<circle cx="281.5" cy="69" r="0.85" fill="#111"/>
<circle cx="282" cy="89.8" r="0.85" fill="#111"/>
<circle cx="281.4" cy="101.7" r="0.85" fill="#111"/>
<circle cx="282" cy="112.9" r="0.85" fill="#111"/>
<circle cx="282" cy="122.3" r="0.85" fill="#111"/>
<line x1="298.9" y1="37.7" x2="298.9" y2="74.9" stroke="#4a4a4a" stroke-width="0.9" />
<line x1="297.9" y1="37.7" x2="299.9" y2="37.7" stroke="#333" stroke-width="0.8" />
<rect x="293.8" y="74.9" width="10.2" height="15.7" fill="#9db9ef" stroke="#3d4f8a" stroke-width="0.85"/>
<line x1="293.8" y1="86.9" x2="304" y2="86.9" stroke="#3d4f8a" stroke-width="0.95" />
<line x1="292.3" y1="62.3" x2="305.6" y2="62.3" stroke="#f2535e" stroke-width="1.3" />
<circle cx="299" cy="37.7" r="0.85" fill="#111"/>
<circle cx="299" cy="66" r="0.85" fill="#111"/>
<circle cx="299" cy="84" r="0.85" fill="#111"/>
<circle cx="299" cy="94" r="0.85" fill="#111"/>
<circle cx="299" cy="98" r="0.85" fill="#111"/>
<line x1="317" y1="28.6" x2="317" y2="117.6" stroke="#4a4a4a" stroke-width="0.9" />
<line x1="316" y1="28.6" x2="318" y2="28.6" stroke="#333" stroke-width="0.8" />
<rect x="312" y="78.5" width="10.5" height="19.9" fill="#f0a3ef" stroke="#8a4a8a" stroke-width="0.85"/>
<line x1="312" y1="79.7" x2="322.5" y2="79.7" stroke="#8a4a8a" stroke-width="0.95" />
<line x1="310.2" y1="50.6" x2="323.5" y2="50.6" stroke="#f2535e" stroke-width="1.3" />
<circle cx="317" cy="28.6" r="0.85" fill="#111"/>
<circle cx="317" cy="64.7" r="0.85" fill="#111"/>
<circle cx="316.5" cy="85.1" r="0.85" fill="#111"/>
<circle cx="317" cy="104.3" r="0.85" fill="#111"/>
<circle cx="317" cy="117.6" r="0.85" fill="#111"/>
<line x1="335" y1="39.6" x2="335" y2="95.8" stroke="#4a4a4a" stroke-width="0.9" />
<line x1="334" y1="39.6" x2="336" y2="39.6" stroke="#333" stroke-width="0.8" />
<rect x="330.2" y="45.5" width="10.2" height="29.9" fill="#b5b38c" stroke="#55553f" stroke-width="0.85"/>
<line x1="330.2" y1="67.7" x2="340.4" y2="67.7" stroke="#55553f" stroke-width="0.95" />
<line x1="328.9" y1="52.4" x2="341.7" y2="52.4" stroke="#f2535e" stroke-width="1.3" />
<circle cx="335" cy="39.6" r="0.85" fill="#111"/>
<circle cx="335" cy="55.5" r="0.85" fill="#111"/>
<circle cx="335" cy="63.9" r="0.85" fill="#111"/>
<circle cx="335" cy="95.8" r="0.85" fill="#111"/>
<line x1="353" y1="54.4" x2="353" y2="108.1" stroke="#4a4a4a" stroke-width="0.9" />
<line x1="352" y1="54.4" x2="354" y2="54.4" stroke="#333" stroke-width="0.8" />
<rect x="347.8" y="69" width="11" height="13.3" fill="#b6e7ee" stroke="#4f7f8a" stroke-width="0.85"/>
<line x1="347.8" y1="75.9" x2="358.8" y2="75.9" stroke="#4f7f8a" stroke-width="0.95" />
<line x1="347.8" y1="69" x2="358.8" y2="69" stroke="#d02020" stroke-width="1.1" />
<circle cx="353" cy="54.4" r="0.85" fill="#111"/>
<circle cx="353" cy="61.3" r="0.85" fill="#111"/>
<circle cx="353" cy="76" r="0.85" fill="#111"/>
<circle cx="353" cy="89.4" r="0.85" fill="#111"/>
<circle cx="353" cy="108.1" r="0.85" fill="#111"/>
<line x1="371" y1="69" x2="371" y2="85.6" stroke="#4a4a4a" stroke-width="0.9" />
<line x1="370" y1="69" x2="372" y2="69" stroke="#333" stroke-width="0.8" />
<rect x="365.7" y="85.6" width="11" height="2.6" fill="#fbc98a" stroke="#9a6030" stroke-width="0.85"/>
<line x1="365.7" y1="85.6" x2="376.7" y2="85.6" stroke="#d02020" stroke-width="1.1" />
<circle cx="371" cy="69" r="0.85" fill="#111"/>
<circle cx="371" cy="83" r="0.85" fill="#111"/>
<circle cx="371" cy="106.8" r="0.85" fill="#111"/>
<line x1="389.2" y1="15.8" x2="389.2" y2="101" stroke="#4a4a4a" stroke-width="0.9" />
<line x1="388.2" y1="15.8" x2="390.2" y2="15.8" stroke="#333" stroke-width="0.8" />
<rect x="383.8" y="26.1" width="11.3" height="63.3" fill="#9edd9d" stroke="#3f6f3f" stroke-width="0.85"/>
<line x1="383.8" y1="80" x2="395.1" y2="80" stroke="#3f6f3f" stroke-width="0.95" />
<line x1="383" y1="32.5" x2="395.8" y2="32.5" stroke="#f2535e" stroke-width="1.3" />
<circle cx="389.5" cy="16" r="0.85" fill="#111"/>
<circle cx="389" cy="20" r="0.85" fill="#111"/>
<circle cx="390" cy="35" r="0.85" fill="#111"/>
<circle cx="389" cy="49" r="0.85" fill="#111"/>
<circle cx="389" cy="78" r="0.85" fill="#111"/>
<circle cx="389" cy="86" r="0.85" fill="#111"/>
<circle cx="389" cy="93" r="0.85" fill="#111"/>
<circle cx="389" cy="101" r="0.85" fill="#111"/>
<rect x="218.2" y="4.1" width="179.8" height="131.4" fill="none" stroke="#939393" stroke-width="1.45"/>
<line x1="218.2" y1="17.9" x2="219.8" y2="17.9" stroke="#333" stroke-width="0.9" />
<g transform="translate(216.4,20.6) scale(0.1)"><text x="0" y="0" text-rendering="geometricPrecision" font-size="53" text-anchor="end" font-weight="normal" style="fill:#444" stroke="#222" stroke-width="0.8">10<tspan font-size="33.0" dy="-21.0">1</tspan></text></g>
<line x1="218.2" y1="41.4" x2="219.8" y2="41.4" stroke="#333" stroke-width="0.9" />
<g transform="translate(216.4,44.1) scale(0.1)"><text x="0" y="0" text-rendering="geometricPrecision" font-size="53" text-anchor="end" font-weight="normal" style="fill:#444" stroke="#222" stroke-width="0.8">10<tspan font-size="33.0" dy="-21.0">0</tspan></text></g>
<line x1="218.2" y1="65.3" x2="219.8" y2="65.3" stroke="#333" stroke-width="0.9" />
<g transform="translate(216.4,68) scale(0.1)"><text x="0" y="0" text-rendering="geometricPrecision" font-size="53" text-anchor="end" font-weight="normal" style="fill:#444" stroke="#222" stroke-width="0.8">10<tspan font-size="33.0" dy="-21.0">-1</tspan></text></g>
<line x1="218.2" y1="88.8" x2="219.8" y2="88.8" stroke="#333" stroke-width="0.9" />
<g transform="translate(216.4,91.5) scale(0.1)"><text x="0" y="0" text-rendering="geometricPrecision" font-size="53" text-anchor="end" font-weight="normal" style="fill:#444" stroke="#222" stroke-width="0.8">10<tspan font-size="33.0" dy="-21.0">-2</tspan></text></g>
<line x1="218.2" y1="112.5" x2="219.8" y2="112.5" stroke="#333" stroke-width="0.9" />
<g transform="translate(216.4,115.2) scale(0.1)"><text x="0" y="0" text-rendering="geometricPrecision" font-size="53" text-anchor="end" font-weight="normal" style="fill:#444" stroke="#222" stroke-width="0.8">10<tspan font-size="33.0" dy="-21.0">-3</tspan></text></g>
<line x1="226.7" y1="135.5" x2="226.7" y2="133.9" stroke="#333" stroke-width="0.9" />
<line x1="244.6" y1="135.5" x2="244.6" y2="133.9" stroke="#333" stroke-width="0.9" />
<line x1="262.6" y1="135.5" x2="262.6" y2="133.9" stroke="#333" stroke-width="0.9" />
<line x1="281" y1="135.5" x2="281" y2="133.9" stroke="#333" stroke-width="0.9" />
<line x1="298.9" y1="135.5" x2="298.9" y2="133.9" stroke="#333" stroke-width="0.9" />
<line x1="317" y1="135.5" x2="317" y2="133.9" stroke="#333" stroke-width="0.9" />
<line x1="335" y1="135.5" x2="335" y2="133.9" stroke="#333" stroke-width="0.9" />
<line x1="353" y1="135.5" x2="353" y2="133.9" stroke="#333" stroke-width="0.9" />
<line x1="371" y1="135.5" x2="371" y2="133.9" stroke="#333" stroke-width="0.9" />
<line x1="389.2" y1="135.5" x2="389.2" y2="133.9" stroke="#333" stroke-width="0.9" />
<g transform="translate(390.1,130.8) scale(0.1)"><text x="0" y="0" text-rendering="geometricPrecision" font-size="50" text-anchor="end" font-weight="bold"  stroke="#222" stroke-width="3">Inhalation</text></g>
<g transform="translate(207.6,69.5) rotate(-90) scale(0.1)"><text x="0" y="0" text-rendering="geometricPrecision" font-size="47" text-anchor="middle" font-weight="bold"  stroke="#222" stroke-width="1">HQ</text></g>
<line x1="218.2" y1="154.1" x2="398" y2="154.1" stroke="#f25a64" stroke-width="1.15" stroke-dasharray="2.8 1.63" stroke-dashoffset="0.1"/>
<line x1="220.8" y1="231" x2="233.3" y2="231" stroke="#f2535e" stroke-width="1.3" />
<circle cx="226.8" cy="211.7" r="0.85" fill="#111"/>
<line x1="238.8" y1="247.3" x2="251.4" y2="247.3" stroke="#f2535e" stroke-width="1.3" />
<circle cx="244.4" cy="233.5" r="0.85" fill="#111"/>
<circle cx="245.1" cy="233.8" r="0.85" fill="#111"/>
<line x1="257.1" y1="215.5" x2="269.7" y2="215.5" stroke="#f2535e" stroke-width="1.3" />
<circle cx="263.9" cy="197.7" r="0.85" fill="#111"/>
<circle cx="260.9" cy="237.8" r="0.85" fill="#111"/>
<line x1="281" y1="193.4" x2="281" y2="214.2" stroke="#4a4a4a" stroke-width="0.9" />
<line x1="280" y1="193.4" x2="282" y2="193.4" stroke="#333" stroke-width="0.8" />
<rect x="275.9" y="214.2" width="10.6" height="22.6" fill="#f7f29b" stroke="#66664a" stroke-width="0.85"/>
<line x1="275.2" y1="211.7" x2="287.7" y2="211.7" stroke="#f2535e" stroke-width="1.3" />
<circle cx="281" cy="193.4" r="0.85" fill="#111"/>
<circle cx="281" cy="209.7" r="0.85" fill="#111"/>
<circle cx="281.5" cy="220.2" r="0.85" fill="#111"/>
<circle cx="282" cy="228.5" r="0.85" fill="#111"/>
<circle cx="281" cy="236.8" r="0.85" fill="#111"/>
<line x1="298.9" y1="193.7" x2="298.9" y2="220.3" stroke="#4a4a4a" stroke-width="0.9" />
<line x1="297.9" y1="193.7" x2="299.9" y2="193.7" stroke="#333" stroke-width="0.8" />
<line x1="294.2" y1="220.3" x2="304" y2="220.3" stroke="#222" stroke-width="0.9" />
<line x1="292.8" y1="213.3" x2="305.4" y2="213.3" stroke="#f2535e" stroke-width="1.3" />
<circle cx="299" cy="193.7" r="0.85" fill="#111"/>
<circle cx="299.5" cy="210" r="0.85" fill="#111"/>
<circle cx="297.5" cy="228.7" r="0.85" fill="#111"/>
<circle cx="300" cy="236.6" r="0.85" fill="#111"/>
<line x1="317" y1="193.7" x2="317" y2="220.3" stroke="#4a4a4a" stroke-width="0.9" />
<line x1="316" y1="193.7" x2="318" y2="193.7" stroke="#333" stroke-width="0.8" />
<rect x="311.9" y="220.3" width="10.3" height="16.3" fill="#f0a3ef" stroke="#8a4a8a" stroke-width="0.85"/>
<line x1="310.5" y1="211.4" x2="323.7" y2="211.4" stroke="#f2535e" stroke-width="1.3" />
<circle cx="317" cy="193.7" r="0.85" fill="#111"/>
<circle cx="317" cy="228.7" r="0.85" fill="#111"/>
<line x1="335" y1="214.2" x2="335" y2="223.1" stroke="#4a4a4a" stroke-width="0.9" />
<line x1="334" y1="214.2" x2="336" y2="214.2" stroke="#333" stroke-width="0.8" />
<rect x="329.8" y="223.1" width="10.7" height="19.1" fill="#b5b38c" stroke="#55553f" stroke-width="0.85"/>
<line x1="328.4" y1="227.3" x2="341.3" y2="227.3" stroke="#f2535e" stroke-width="1.3" />
<circle cx="334.5" cy="214.2" r="0.85" fill="#111"/>
<circle cx="335" cy="217.5" r="0.85" fill="#111"/>
<circle cx="334.5" cy="228.7" r="0.85" fill="#111"/>
<circle cx="334.5" cy="236.6" r="0.85" fill="#111"/>
<line x1="353" y1="214.2" x2="353" y2="228.7" stroke="#4a4a4a" stroke-width="0.9" />
<line x1="352" y1="214.2" x2="354" y2="214.2" stroke="#333" stroke-width="0.8" />
<line x1="346.9" y1="228.7" x2="359.5" y2="228.7" stroke="#f2535e" stroke-width="1.3" />
<circle cx="353" cy="214.2" r="0.85" fill="#111"/>
<circle cx="353" cy="219.8" r="0.85" fill="#111"/>
<circle cx="353" cy="236.6" r="0.85" fill="#111"/>
<line x1="371" y1="193.7" x2="371" y2="206.3" stroke="#4a4a4a" stroke-width="0.9" />
<line x1="370" y1="193.7" x2="372" y2="193.7" stroke="#333" stroke-width="0.8" />
<rect x="365.2" y="206.3" width="11.7" height="2.3" fill="#fbc98a" stroke="#9a6030" stroke-width="0.85"/>
<line x1="365.2" y1="206.3" x2="376.9" y2="206.3" stroke="#d02020" stroke-width="1.1" />
<circle cx="370.5" cy="193.7" r="0.85" fill="#111"/>
<circle cx="370.5" cy="205" r="0.85" fill="#111"/>
<circle cx="370.5" cy="224" r="0.85" fill="#111"/>
<line x1="389.2" y1="148" x2="389.2" y2="218.9" stroke="#4a4a4a" stroke-width="0.9" />
<line x1="388.2" y1="148" x2="390.2" y2="148" stroke="#333" stroke-width="0.8" />
<rect x="383.9" y="156.4" width="10.7" height="53.3" fill="#9edd9d" stroke="#3f6f3f" stroke-width="0.85"/>
<line x1="383.9" y1="200.7" x2="394.6" y2="200.7" stroke="#3f6f3f" stroke-width="0.95" />
<line x1="383.9" y1="202.7" x2="394.6" y2="202.7" stroke="#3f6f3f" stroke-width="0.95" />
<line x1="382.5" y1="160.9" x2="395.7" y2="160.9" stroke="#f2535e" stroke-width="1.3" />
<circle cx="389" cy="148" r="0.85" fill="#111"/>
<circle cx="389" cy="152.2" r="0.85" fill="#111"/>
<circle cx="389" cy="163.7" r="0.85" fill="#111"/>
<circle cx="389" cy="174.6" r="0.85" fill="#111"/>
<circle cx="389" cy="205" r="0.85" fill="#111"/>
<circle cx="389" cy="211" r="0.85" fill="#111"/>
<circle cx="389" cy="214.5" r="0.85" fill="#111"/>
<circle cx="389" cy="218.9" r="0.85" fill="#111"/>
<rect x="218.2" y="135.5" width="179.8" height="132" fill="none" stroke="#939393" stroke-width="1.45"/>
<line x1="218.2" y1="135.5" x2="219.8" y2="135.5" stroke="#333" stroke-width="0.9" />
<g transform="translate(216.4,138.2) scale(0.1)"><text x="0" y="0" text-rendering="geometricPrecision" font-size="53" text-anchor="end" font-weight="normal" style="fill:#444" stroke="#222" stroke-width="0.8">10<tspan font-size="33.0" dy="-21.0">1</tspan></text></g>
<line x1="218.2" y1="154.1" x2="219.8" y2="154.1" stroke="#333" stroke-width="0.9" />
<g transform="translate(216.4,156.8) scale(0.1)"><text x="0" y="0" text-rendering="geometricPrecision" font-size="53" text-anchor="end" font-weight="normal" style="fill:#444" stroke="#222" stroke-width="0.8">10<tspan font-size="33.0" dy="-21.0">0</tspan></text></g>
<line x1="218.2" y1="172.9" x2="219.8" y2="172.9" stroke="#333" stroke-width="0.9" />
<g transform="translate(216.4,175.6) scale(0.1)"><text x="0" y="0" text-rendering="geometricPrecision" font-size="53" text-anchor="end" font-weight="normal" style="fill:#444" stroke="#222" stroke-width="0.8">10<tspan font-size="33.0" dy="-21.0">-1</tspan></text></g>
<line x1="218.2" y1="191.6" x2="219.8" y2="191.6" stroke="#333" stroke-width="0.9" />
<g transform="translate(216.4,194.3) scale(0.1)"><text x="0" y="0" text-rendering="geometricPrecision" font-size="53" text-anchor="end" font-weight="normal" style="fill:#444" stroke="#222" stroke-width="0.8">10<tspan font-size="33.0" dy="-21.0">-2</tspan></text></g>
<line x1="218.2" y1="210.4" x2="219.8" y2="210.4" stroke="#333" stroke-width="0.9" />
<g transform="translate(216.4,213.1) scale(0.1)"><text x="0" y="0" text-rendering="geometricPrecision" font-size="53" text-anchor="end" font-weight="normal" style="fill:#444" stroke="#222" stroke-width="0.8">10<tspan font-size="33.0" dy="-21.0">-3</tspan></text></g>
<line x1="218.2" y1="229.7" x2="219.8" y2="229.7" stroke="#333" stroke-width="0.9" />
<g transform="translate(216.4,232.4) scale(0.1)"><text x="0" y="0" text-rendering="geometricPrecision" font-size="53" text-anchor="end" font-weight="normal" style="fill:#444" stroke="#222" stroke-width="0.8">10<tspan font-size="33.0" dy="-21.0">-4</tspan></text></g>
<line x1="218.2" y1="248.5" x2="219.8" y2="248.5" stroke="#333" stroke-width="0.9" />
<g transform="translate(216.4,251.2) scale(0.1)"><text x="0" y="0" text-rendering="geometricPrecision" font-size="53" text-anchor="end" font-weight="normal" style="fill:#444" stroke="#222" stroke-width="0.8">10<tspan font-size="33.0" dy="-21.0">-5</tspan></text></g>
<line x1="218.2" y1="267.4" x2="219.8" y2="267.4" stroke="#333" stroke-width="0.9" />
<g transform="translate(216.4,270.1) scale(0.1)"><text x="0" y="0" text-rendering="geometricPrecision" font-size="53" text-anchor="end" font-weight="normal" style="fill:#444" stroke="#222" stroke-width="0.8">10<tspan font-size="33.0" dy="-21.0">-6</tspan></text></g>
<line x1="226.7" y1="267.5" x2="226.7" y2="265.9" stroke="#333" stroke-width="0.9" />
<line x1="244.6" y1="267.5" x2="244.6" y2="265.9" stroke="#333" stroke-width="0.9" />
<line x1="262.6" y1="267.5" x2="262.6" y2="265.9" stroke="#333" stroke-width="0.9" />
<line x1="281" y1="267.5" x2="281" y2="265.9" stroke="#333" stroke-width="0.9" />
<line x1="298.9" y1="267.5" x2="298.9" y2="265.9" stroke="#333" stroke-width="0.9" />
<line x1="317" y1="267.5" x2="317" y2="265.9" stroke="#333" stroke-width="0.9" />
<line x1="335" y1="267.5" x2="335" y2="265.9" stroke="#333" stroke-width="0.9" />
<line x1="353" y1="267.5" x2="353" y2="265.9" stroke="#333" stroke-width="0.9" />
<line x1="371" y1="267.5" x2="371" y2="265.9" stroke="#333" stroke-width="0.9" />
<line x1="389.2" y1="267.5" x2="389.2" y2="265.9" stroke="#333" stroke-width="0.9" />
<g transform="translate(390,261.3) scale(0.1)"><text x="0" y="0" text-rendering="geometricPrecision" font-size="52" text-anchor="end" font-weight="bold"  stroke="#222" stroke-width="3">Dermal Contact</text></g>
<g transform="translate(207.2,201.5) rotate(-90) scale(0.1)"><text x="0" y="0" text-rendering="geometricPrecision" font-size="47" text-anchor="middle" font-weight="bold"  stroke="#222" stroke-width="1">HQ</text></g>
<line x1="218.2" y1="298.8" x2="398" y2="298.8" stroke="#f25a64" stroke-width="1.15" stroke-dasharray="2.8 1.63" stroke-dashoffset="0.1"/>
<line x1="220.8" y1="383" x2="233.3" y2="383" stroke="#f2535e" stroke-width="1.3" />
<circle cx="226.8" cy="359.2" r="0.85" fill="#111"/>
<circle cx="244.5" cy="386.8" r="0.85" fill="#111"/>
<circle cx="245.2" cy="387.2" r="0.85" fill="#111"/>
<line x1="257" y1="364.3" x2="269.5" y2="364.3" stroke="#f2535e" stroke-width="1.3" />
<circle cx="263.9" cy="341" r="0.85" fill="#111"/>
<circle cx="260.9" cy="391.8" r="0.85" fill="#111"/>
<line x1="281" y1="336.2" x2="281" y2="357.5" stroke="#4a4a4a" stroke-width="0.9" />
<line x1="280" y1="336.2" x2="282" y2="336.2" stroke="#333" stroke-width="0.8" />
<rect x="275.9" y="357.5" width="10.6" height="32.6" fill="#f7f29b" stroke="#66664a" stroke-width="0.85"/>
<line x1="275.9" y1="357.5" x2="286.5" y2="357.5" stroke="#d02020" stroke-width="1.1" />
<circle cx="281" cy="336.2" r="0.85" fill="#111"/>
<circle cx="281" cy="370" r="0.85" fill="#111"/>
<circle cx="282" cy="380.5" r="0.85" fill="#111"/>
<circle cx="281" cy="390.1" r="0.85" fill="#111"/>
<line x1="298.9" y1="301.3" x2="298.9" y2="339.2" stroke="#4a4a4a" stroke-width="0.9" />
<line x1="297.9" y1="301.3" x2="299.9" y2="301.3" stroke="#333" stroke-width="0.8" />
<rect x="293.6" y="339.2" width="10.4" height="19.3" fill="#9db9ef" stroke="#3d4f8a" stroke-width="0.85"/>
<line x1="293.6" y1="353.6" x2="304" y2="353.6" stroke="#3d4f8a" stroke-width="0.95" />
<line x1="292.8" y1="327" x2="305.4" y2="327" stroke="#f2535e" stroke-width="1.3" />
<circle cx="299" cy="301.3" r="0.85" fill="#111"/>
<circle cx="299" cy="329.9" r="0.85" fill="#111"/>
<circle cx="298.5" cy="342.5" r="0.85" fill="#111"/>
<circle cx="299" cy="355.1" r="0.85" fill="#111"/>
<circle cx="298" cy="363.5" r="0.85" fill="#111"/>
<circle cx="298" cy="367.8" r="0.85" fill="#111"/>
<line x1="317" y1="290.1" x2="317" y2="370" stroke="#4a4a4a" stroke-width="0.9" />
<line x1="316" y1="290.1" x2="318" y2="290.1" stroke="#333" stroke-width="0.8" />
<rect x="311.9" y="334.9" width="10.3" height="17.4" fill="#f0a3ef" stroke="#8a4a8a" stroke-width="0.85"/>
<line x1="311.9" y1="341.1" x2="322.2" y2="341.1" stroke="#8a4a8a" stroke-width="0.95" />
<line x1="310.5" y1="312.5" x2="323.7" y2="312.5" stroke="#f2535e" stroke-width="1.3" />
<circle cx="317" cy="290.1" r="0.85" fill="#111"/>
<circle cx="317" cy="331.3" r="0.85" fill="#111"/>
<circle cx="316" cy="346.7" r="0.85" fill="#111"/>
<circle cx="316.5" cy="361.6" r="0.85" fill="#111"/>
<circle cx="317" cy="370" r="0.85" fill="#111"/>
<line x1="335" y1="303.3" x2="335" y2="341.7" stroke="#4a4a4a" stroke-width="0.9" />
<line x1="334" y1="303.3" x2="336" y2="303.3" stroke="#333" stroke-width="0.8" />
<rect x="329.8" y="309.4" width="10.7" height="32.3" fill="#b5b38c" stroke="#55553f" stroke-width="0.85"/>
<line x1="329.8" y1="332.7" x2="340.5" y2="332.7" stroke="#55553f" stroke-width="0.95" />
<line x1="328.4" y1="316.4" x2="341.3" y2="316.4" stroke="#f2535e" stroke-width="1.3" />
<circle cx="334.5" cy="303.3" r="0.85" fill="#111"/>
<circle cx="334" cy="319.5" r="0.85" fill="#111"/>
<circle cx="335" cy="327.1" r="0.85" fill="#111"/>
<circle cx="335" cy="343.1" r="0.85" fill="#111"/>
<line x1="353" y1="319.2" x2="353" y2="356.5" stroke="#4a4a4a" stroke-width="0.9" />
<line x1="352" y1="319.2" x2="354" y2="319.2" stroke="#333" stroke-width="0.8" />
<rect x="348" y="334.1" width="10.7" height="14" fill="#b6e7ee" stroke="#4f7f8a" stroke-width="0.85"/>
<line x1="348" y1="343.4" x2="358.7" y2="343.4" stroke="#4f7f8a" stroke-width="0.95" />
<line x1="348" y1="334.1" x2="358.7" y2="334.1" stroke="#d02020" stroke-width="1.1" />
<circle cx="353" cy="319.2" r="0.85" fill="#111"/>
<circle cx="353" cy="322.9" r="0.85" fill="#111"/>
<circle cx="352" cy="341.7" r="0.85" fill="#111"/>
<circle cx="353" cy="344.8" r="0.85" fill="#111"/>
<circle cx="355" cy="356.5" r="0.85" fill="#111"/>
<line x1="371" y1="336.3" x2="371" y2="352.3" stroke="#4a4a4a" stroke-width="0.9" />
<line x1="370" y1="336.3" x2="372" y2="336.3" stroke="#333" stroke-width="0.8" />
<rect x="365.2" y="352.3" width="11.7" height="3.7" fill="#fbc98a" stroke="#9a6030" stroke-width="0.85"/>
<line x1="365.2" y1="352.3" x2="376.9" y2="352.3" stroke="#d02020" stroke-width="1.1" />
<circle cx="370.5" cy="336.3" r="0.85" fill="#111"/>
<circle cx="370" cy="372.8" r="0.85" fill="#111"/>
<line x1="389.2" y1="277.5" x2="389.2" y2="368.3" stroke="#4a4a4a" stroke-width="0.9" />
<line x1="388.2" y1="277.5" x2="390.2" y2="277.5" stroke="#333" stroke-width="0.8" />
<rect x="383.9" y="287.8" width="10.7" height="68.2" fill="#9edd9d" stroke="#3f6f3f" stroke-width="0.85"/>
<line x1="383.9" y1="347.3" x2="394.6" y2="347.3" stroke="#3f6f3f" stroke-width="0.95" />
<line x1="382.5" y1="294.3" x2="395.7" y2="294.3" stroke="#f2535e" stroke-width="1.3" />
<circle cx="389" cy="277.5" r="0.85" fill="#111"/>
<circle cx="389" cy="282.2" r="0.85" fill="#111"/>
<circle cx="389" cy="297.7" r="0.85" fill="#111"/>
<circle cx="390" cy="309.7" r="0.85" fill="#111"/>
<circle cx="389" cy="350" r="0.85" fill="#111"/>
<circle cx="389" cy="358" r="0.85" fill="#111"/>
<circle cx="389" cy="362" r="0.85" fill="#111"/>
<circle cx="389" cy="368.3" r="0.85" fill="#111"/>
<rect x="218.2" y="267.5" width="179.8" height="132.2" fill="none" stroke="#939393" stroke-width="1.45"/>
<line x1="218.2" y1="275.1" x2="219.8" y2="275.1" stroke="#333" stroke-width="0.9" />
<g transform="translate(216.4,277.8) scale(0.1)"><text x="0" y="0" text-rendering="geometricPrecision" font-size="53" text-anchor="end" font-weight="normal" style="fill:#444" stroke="#222" stroke-width="0.8">10<tspan font-size="33.0" dy="-21.0">1</tspan></text></g>
<line x1="218.2" y1="298.8" x2="219.8" y2="298.8" stroke="#333" stroke-width="0.9" />
<g transform="translate(216.4,301.5) scale(0.1)"><text x="0" y="0" text-rendering="geometricPrecision" font-size="53" text-anchor="end" font-weight="normal" style="fill:#444" stroke="#222" stroke-width="0.8">10<tspan font-size="33.0" dy="-21.0">0</tspan></text></g>
<line x1="218.2" y1="322.4" x2="219.8" y2="322.4" stroke="#333" stroke-width="0.9" />
<g transform="translate(216.4,325.1) scale(0.1)"><text x="0" y="0" text-rendering="geometricPrecision" font-size="53" text-anchor="end" font-weight="normal" style="fill:#444" stroke="#222" stroke-width="0.8">10<tspan font-size="33.0" dy="-21.0">-1</tspan></text></g>
<line x1="218.2" y1="346.2" x2="219.8" y2="346.2" stroke="#333" stroke-width="0.9" />
<g transform="translate(216.4,348.9) scale(0.1)"><text x="0" y="0" text-rendering="geometricPrecision" font-size="53" text-anchor="end" font-weight="normal" style="fill:#444" stroke="#222" stroke-width="0.8">10<tspan font-size="33.0" dy="-21.0">-2</tspan></text></g>
<line x1="218.2" y1="370" x2="219.8" y2="370" stroke="#333" stroke-width="0.9" />
<g transform="translate(216.4,372.7) scale(0.1)"><text x="0" y="0" text-rendering="geometricPrecision" font-size="53" text-anchor="end" font-weight="normal" style="fill:#444" stroke="#222" stroke-width="0.8">10<tspan font-size="33.0" dy="-21.0">-3</tspan></text></g>
<line x1="218.2" y1="393.8" x2="219.8" y2="393.8" stroke="#333" stroke-width="0.9" />
<g transform="translate(216.4,396.5) scale(0.1)"><text x="0" y="0" text-rendering="geometricPrecision" font-size="53" text-anchor="end" font-weight="normal" style="fill:#444" stroke="#222" stroke-width="0.8">10<tspan font-size="33.0" dy="-21.0">-4</tspan></text></g>
<line x1="226.7" y1="399.7" x2="226.7" y2="398.1" stroke="#333" stroke-width="0.9" />
<line x1="244.6" y1="399.7" x2="244.6" y2="398.1" stroke="#333" stroke-width="0.9" />
<line x1="262.6" y1="399.7" x2="262.6" y2="398.1" stroke="#333" stroke-width="0.9" />
<line x1="281" y1="399.7" x2="281" y2="398.1" stroke="#333" stroke-width="0.9" />
<line x1="298.9" y1="399.7" x2="298.9" y2="398.1" stroke="#333" stroke-width="0.9" />
<line x1="317" y1="399.7" x2="317" y2="398.1" stroke="#333" stroke-width="0.9" />
<line x1="335" y1="399.7" x2="335" y2="398.1" stroke="#333" stroke-width="0.9" />
<line x1="353" y1="399.7" x2="353" y2="398.1" stroke="#333" stroke-width="0.9" />
<line x1="371" y1="399.7" x2="371" y2="398.1" stroke="#333" stroke-width="0.9" />
<line x1="389.2" y1="399.7" x2="389.2" y2="398.1" stroke="#333" stroke-width="0.9" />
<g transform="translate(390,392.5) scale(0.1)"><text x="0" y="0" text-rendering="geometricPrecision" font-size="52" text-anchor="end" font-weight="bold"  stroke="#222" stroke-width="3">Oral Ingestion</text></g>
<g transform="translate(207.5,333.4) rotate(-90) scale(0.1)"><text x="0" y="0" text-rendering="geometricPrecision" font-size="47" text-anchor="middle" font-weight="bold"  stroke="#222" stroke-width="1">HQ</text></g>
<line x1="218.2" y1="442.2" x2="398" y2="442.2" stroke="#f25a64" stroke-width="1.15" stroke-dasharray="2.8 1.63" stroke-dashoffset="0.1"/>
<line x1="221" y1="514.2" x2="233.6" y2="514.2" stroke="#f2535e" stroke-width="1.3" />
<circle cx="226.6" cy="489.8" r="0.85" fill="#111"/>
<circle cx="244.3" cy="517.8" r="0.85" fill="#111"/>
<circle cx="245" cy="518.2" r="0.85" fill="#111"/>
<line x1="256.6" y1="494.6" x2="269.2" y2="494.6" stroke="#f2535e" stroke-width="1.3" />
<circle cx="263.9" cy="471.6" r="0.85" fill="#111"/>
<circle cx="260.8" cy="522.9" r="0.85" fill="#111"/>
<line x1="281" y1="466.9" x2="281" y2="490.4" stroke="#4a4a4a" stroke-width="0.9" />
<line x1="280" y1="466.9" x2="282" y2="466.9" stroke="#333" stroke-width="0.8" />
<rect x="275.6" y="490.4" width="10.4" height="30.8" fill="#f7f29b" stroke="#66664a" stroke-width="0.85"/>
<line x1="274.2" y1="489.3" x2="287.4" y2="489.3" stroke="#f2535e" stroke-width="1.3" />
<circle cx="281" cy="466.9" r="0.85" fill="#111"/>
<circle cx="281" cy="487" r="0.85" fill="#111"/>
<circle cx="281" cy="500.5" r="0.85" fill="#111"/>
<circle cx="283" cy="510.8" r="0.85" fill="#111"/>
<circle cx="281" cy="521.2" r="0.85" fill="#111"/>
<line x1="298.9" y1="433.3" x2="298.9" y2="473.1" stroke="#4a4a4a" stroke-width="0.9" />
<line x1="297.9" y1="433.3" x2="299.9" y2="433.3" stroke="#333" stroke-width="0.8" />
<rect x="293.6" y="473.1" width="10.4" height="15.4" fill="#9db9ef" stroke="#3d4f8a" stroke-width="0.85"/>
<line x1="293.6" y1="483.8" x2="304" y2="483.8" stroke="#3d4f8a" stroke-width="0.95" />
<line x1="292.8" y1="458.5" x2="305.4" y2="458.5" stroke="#f2535e" stroke-width="1.3" />
<circle cx="299" cy="433.3" r="0.85" fill="#111"/>
<circle cx="299.5" cy="461.3" r="0.85" fill="#111"/>
<circle cx="298" cy="475.9" r="0.85" fill="#111"/>
<circle cx="298" cy="494.1" r="0.85" fill="#111"/>
<circle cx="298" cy="498.9" r="0.85" fill="#111"/>
<line x1="317" y1="423.2" x2="317" y2="502" stroke="#4a4a4a" stroke-width="0.9" />
<line x1="316" y1="423.2" x2="318" y2="423.2" stroke="#333" stroke-width="0.8" />
<rect x="311.9" y="474.5" width="10.3" height="9" fill="#f0a3ef" stroke="#8a4a8a" stroke-width="0.85"/>
<line x1="310.5" y1="445.1" x2="323.7" y2="445.1" stroke="#f2535e" stroke-width="1.3" />
<circle cx="317" cy="423.2" r="0.85" fill="#111"/>
<circle cx="316.5" cy="461.9" r="0.85" fill="#111"/>
<circle cx="317" cy="479.3" r="0.85" fill="#111"/>
<circle cx="316.5" cy="494.7" r="0.85" fill="#111"/>
<circle cx="317" cy="502" r="0.85" fill="#111"/>
<line x1="335" y1="435.3" x2="335" y2="480.1" stroke="#4a4a4a" stroke-width="0.9" />
<line x1="334" y1="435.3" x2="336" y2="435.3" stroke="#333" stroke-width="0.8" />
<rect x="329.8" y="440.9" width="10.7" height="32.2" fill="#b5b38c" stroke="#55553f" stroke-width="0.85"/>
<line x1="329.8" y1="464.1" x2="340.5" y2="464.1" stroke="#55553f" stroke-width="0.95" />
<line x1="328.4" y1="448.4" x2="341.3" y2="448.4" stroke="#f2535e" stroke-width="1.3" />
<circle cx="335" cy="435.3" r="0.85" fill="#111"/>
<circle cx="335" cy="451.5" r="0.85" fill="#111"/>
<circle cx="335" cy="459.1" r="0.85" fill="#111"/>
<circle cx="334" cy="469.5" r="0.85" fill="#111"/>
<circle cx="335" cy="480.1" r="0.85" fill="#111"/>
<line x1="353" y1="450.7" x2="353" y2="487.7" stroke="#4a4a4a" stroke-width="0.9" />
<line x1="352" y1="450.7" x2="354" y2="450.7" stroke="#333" stroke-width="0.8" />
<rect x="348" y="465.5" width="10.7" height="14.1" fill="#b6e7ee" stroke="#4f7f8a" stroke-width="0.85"/>
<line x1="348" y1="474" x2="358.7" y2="474" stroke="#4f7f8a" stroke-width="0.95" />
<line x1="348" y1="465.5" x2="358.7" y2="465.5" stroke="#d02020" stroke-width="1.1" />
<circle cx="353" cy="450.7" r="0.85" fill="#111"/>
<circle cx="353" cy="454.9" r="0.85" fill="#111"/>
<circle cx="352" cy="473.1" r="0.85" fill="#111"/>
<circle cx="353" cy="486.6" r="0.85" fill="#111"/>
<line x1="371" y1="467" x2="371" y2="482.9" stroke="#4a4a4a" stroke-width="0.9" />
<line x1="370" y1="467" x2="372" y2="467" stroke="#333" stroke-width="0.8" />
<rect x="365.2" y="482.9" width="11.7" height="3.4" fill="#fbc98a" stroke="#9a6030" stroke-width="0.85"/>
<line x1="365.2" y1="482.9" x2="376.9" y2="482.9" stroke="#d02020" stroke-width="1.1" />
<circle cx="370.5" cy="467" r="0.85" fill="#111"/>
<circle cx="370.5" cy="480.1" r="0.85" fill="#111"/>
<circle cx="370" cy="504.5" r="0.85" fill="#111"/>
<line x1="389.2" y1="409.5" x2="389.2" y2="498.9" stroke="#4a4a4a" stroke-width="0.9" />
<line x1="388.2" y1="409.5" x2="390.2" y2="409.5" stroke="#333" stroke-width="0.8" />
<rect x="383.9" y="420.4" width="10.7" height="66.2" fill="#9edd9d" stroke="#3f6f3f" stroke-width="0.85"/>
<line x1="383.9" y1="477.3" x2="394.6" y2="477.3" stroke="#3f6f3f" stroke-width="0.95" />
<line x1="382.5" y1="426.8" x2="395.7" y2="426.8" stroke="#f2535e" stroke-width="1.3" />
<circle cx="389" cy="409.5" r="0.85" fill="#111"/>
<circle cx="389" cy="413" r="0.85" fill="#111"/>
<circle cx="389.5" cy="430" r="0.85" fill="#111"/>
<circle cx="389" cy="446" r="0.85" fill="#111"/>
<circle cx="389" cy="472" r="0.85" fill="#111"/>
<circle cx="389" cy="481" r="0.85" fill="#111"/>
<circle cx="389" cy="490" r="0.85" fill="#111"/>
<circle cx="389" cy="498.9" r="0.85" fill="#111"/>
<rect x="218.2" y="399.7" width="179.8" height="131.3" fill="none" stroke="#939393" stroke-width="1.45"/>
<line x1="218.2" y1="418.4" x2="219.8" y2="418.4" stroke="#333" stroke-width="0.9" />
<g transform="translate(216.4,421.1) scale(0.1)"><text x="0" y="0" text-rendering="geometricPrecision" font-size="53" text-anchor="end" font-weight="normal" style="fill:#444" stroke="#222" stroke-width="0.8">10<tspan font-size="33.0" dy="-21.0">1</tspan></text></g>
<line x1="218.2" y1="442.2" x2="219.8" y2="442.2" stroke="#333" stroke-width="0.9" />
<g transform="translate(216.4,444.9) scale(0.1)"><text x="0" y="0" text-rendering="geometricPrecision" font-size="53" text-anchor="end" font-weight="normal" style="fill:#444" stroke="#222" stroke-width="0.8">10<tspan font-size="33.0" dy="-21.0">0</tspan></text></g>
<line x1="218.2" y1="466.6" x2="219.8" y2="466.6" stroke="#333" stroke-width="0.9" />
<g transform="translate(216.4,469.3) scale(0.1)"><text x="0" y="0" text-rendering="geometricPrecision" font-size="53" text-anchor="end" font-weight="normal" style="fill:#444" stroke="#222" stroke-width="0.8">10<tspan font-size="33.0" dy="-21.0">-1</tspan></text></g>
<line x1="218.2" y1="490.7" x2="219.8" y2="490.7" stroke="#333" stroke-width="0.9" />
<g transform="translate(216.4,493.4) scale(0.1)"><text x="0" y="0" text-rendering="geometricPrecision" font-size="53" text-anchor="end" font-weight="normal" style="fill:#444" stroke="#222" stroke-width="0.8">10<tspan font-size="33.0" dy="-21.0">-2</tspan></text></g>
<line x1="218.2" y1="514.5" x2="219.8" y2="514.5" stroke="#333" stroke-width="0.9" />
<g transform="translate(216.4,517.2) scale(0.1)"><text x="0" y="0" text-rendering="geometricPrecision" font-size="53" text-anchor="end" font-weight="normal" style="fill:#444" stroke="#222" stroke-width="0.8">10<tspan font-size="33.0" dy="-21.0">-3</tspan></text></g>
<line x1="226.7" y1="531" x2="226.7" y2="529.4" stroke="#333" stroke-width="0.9" />
<line x1="244.6" y1="531" x2="244.6" y2="529.4" stroke="#333" stroke-width="0.9" />
<line x1="262.6" y1="531" x2="262.6" y2="529.4" stroke="#333" stroke-width="0.9" />
<line x1="281" y1="531" x2="281" y2="529.4" stroke="#333" stroke-width="0.9" />
<line x1="298.9" y1="531" x2="298.9" y2="529.4" stroke="#333" stroke-width="0.9" />
<line x1="317" y1="531" x2="317" y2="529.4" stroke="#333" stroke-width="0.9" />
<line x1="335" y1="531" x2="335" y2="529.4" stroke="#333" stroke-width="0.9" />
<line x1="353" y1="531" x2="353" y2="529.4" stroke="#333" stroke-width="0.9" />
<line x1="371" y1="531" x2="371" y2="529.4" stroke="#333" stroke-width="0.9" />
<line x1="389.2" y1="531" x2="389.2" y2="529.4" stroke="#333" stroke-width="0.9" />
<g transform="translate(226.7,537.1) scale(0.1)"><text x="0" y="0" text-rendering="geometricPrecision" font-size="52" text-anchor="middle" font-weight="bold"  stroke="#222" stroke-width="2.8">SS1</text></g>
<g transform="translate(244.6,537.1) scale(0.1)"><text x="0" y="0" text-rendering="geometricPrecision" font-size="52" text-anchor="middle" font-weight="bold"  stroke="#222" stroke-width="2.8">SS2</text></g>
<g transform="translate(262.6,537.1) scale(0.1)"><text x="0" y="0" text-rendering="geometricPrecision" font-size="52" text-anchor="middle" font-weight="bold"  stroke="#222" stroke-width="2.8">SS3</text></g>
<g transform="translate(281,537.1) scale(0.1)"><text x="0" y="0" text-rendering="geometricPrecision" font-size="52" text-anchor="middle" font-weight="bold"  stroke="#222" stroke-width="2.8">SS4</text></g>
<g transform="translate(298.9,537.1) scale(0.1)"><text x="0" y="0" text-rendering="geometricPrecision" font-size="52" text-anchor="middle" font-weight="bold"  stroke="#222" stroke-width="2.8">SS5</text></g>
<g transform="translate(317,537.1) scale(0.1)"><text x="0" y="0" text-rendering="geometricPrecision" font-size="52" text-anchor="middle" font-weight="bold"  stroke="#222" stroke-width="2.8">SS6</text></g>
<g transform="translate(335,537.1) scale(0.1)"><text x="0" y="0" text-rendering="geometricPrecision" font-size="52" text-anchor="middle" font-weight="bold"  stroke="#222" stroke-width="2.8">SS7</text></g>
<g transform="translate(353,537.1) scale(0.1)"><text x="0" y="0" text-rendering="geometricPrecision" font-size="52" text-anchor="middle" font-weight="bold"  stroke="#222" stroke-width="2.8">SS8</text></g>
<g transform="translate(371,537.1) scale(0.1)"><text x="0" y="0" text-rendering="geometricPrecision" font-size="52" text-anchor="middle" font-weight="bold"  stroke="#222" stroke-width="2.8">SS9</text></g>
<g transform="translate(389.2,537.1) scale(0.1)"><text x="0" y="0" text-rendering="geometricPrecision" font-size="52" text-anchor="middle" font-weight="bold"  stroke="#222" stroke-width="2.8">SS10</text></g>
<g transform="translate(386,524.7) scale(0.1)"><text x="0" y="0" text-rendering="geometricPrecision" font-size="53.2" text-anchor="end" font-weight="bold"  stroke="#222" stroke-width="3">Total Noncarcinogenic Risk</text></g>
<g transform="translate(207.2,465.6) rotate(-90) scale(0.1)"><text x="0" y="0" text-rendering="geometricPrecision" font-size="47" text-anchor="middle" font-weight="bold"  stroke="#222" stroke-width="1">HQ</text></g>
<g transform="translate(115.75,545) scale(0.1)"><text x="0" y="0" text-rendering="geometricPrecision" font-size="48" text-anchor="middle" font-weight="bold"  stroke="#222" stroke-width="2.2">Soil sampling points</text></g>
<g transform="translate(311.2,545) scale(0.1)"><text x="0" y="0" text-rendering="geometricPrecision" font-size="46.5" text-anchor="middle" font-weight="bold"  stroke="#222" stroke-width="2.2">Soil sampling points</text></g>

</svg></body></html>
